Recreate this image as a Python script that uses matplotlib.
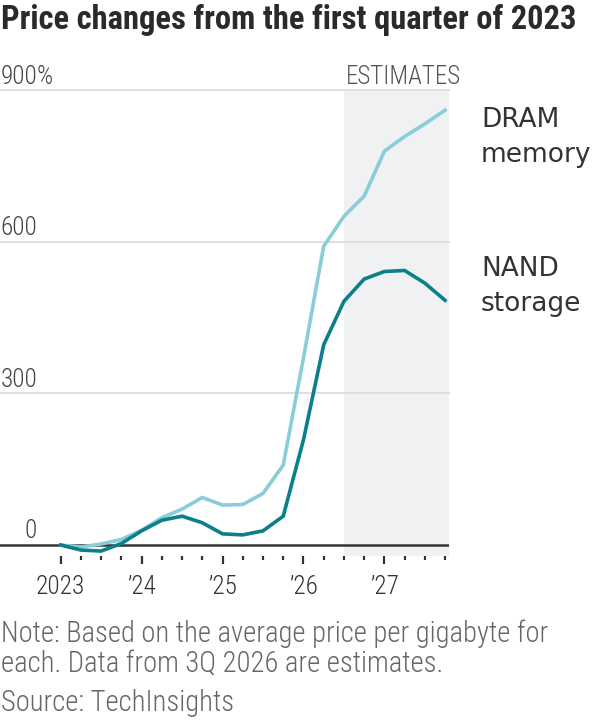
import matplotlib
matplotlib.use("Agg")
import matplotlib.pyplot as plt
from matplotlib import font_manager as fm

# ---- data (quarterly, 1Q 2023 .. 4Q 2027) ----
quarters = list(range(20))
dram = [0, -4, 2, 11, 29, 54, 71, 94, 79, 80, 102, 158, 370, 591, 650, 690, 779, 808, 833, 860]
nand = [0, -10, -12, 3, 28, 49, 57, 44, 22, 20, 28, 57, 208, 396, 482, 526, 541, 543, 518, 484]
year_ticks = [0, 4, 8, 12, 16]
year_labels = ["2023", "\u201924", "\u201925", "\u201926", "\u201927"]
y_grid = [300, 600, 900]
y_labels = ["300", "600", "900"]
estimate_start = 14

names = {f.name for f in fm.fontManager.ttflist}
COND = "DejaVu Sans"
for cand in ["Roboto Condensed", "IBM Plex Sans Condensed", "Archivo Narrow",
             "Asap Condensed", "Open Sans Condensed", "Liberation Sans Narrow"]:
    if cand in names:
        COND = cand
        break
FAM = [COND, "DejaVu Sans"]
LIGHT = "light"

W, H = 600, 720
fig = plt.figure(figsize=(6, 7.2), dpi=100)
renderer = fig.canvas.get_renderer()

def fx(x):
    return x / W

def fy(y):
    return 1 - y / H

def fit(t, width_px):
    for _ in range(3):
        w = t.get_window_extent(renderer).width
        if w > 0:
            t.set_fontsize(t.get_fontsize() * width_px / w)
    return t

# pixel mapping
px0, px_q = 60.7, 20.23
y0_px, ppu = 545.0, 455.0 / 900
ax_left_px, ax_right_px = 0, 449
ax_top_px, ax_bot_px = 90, 556

ax = fig.add_axes([fx(ax_left_px), fy(ax_bot_px), fx(ax_right_px - ax_left_px),
                   (ax_bot_px - ax_top_px) / H])
ax.set_xlim((ax_left_px - px0) / px_q, (ax_right_px - px0) / px_q)
ax.set_ylim((y0_px - ax_bot_px) / ppu, (y0_px - ax_top_px) / ppu)
for s in ax.spines.values():
    s.set_visible(False)
ax.set_facecolor("none")

# shading for estimates
ax.axvspan(estimate_start, ax.get_xlim()[1], color="#f0f1f3", zorder=0, lw=0)

# grid
for g in y_grid:
    ax.axhline(g, color="#dcdcdc", lw=1.3, zorder=1, clip_on=False)
ax.axhline(0, color="#333333", lw=1.8, zorder=3)

ax.plot(quarters, dram, color="#8accd8", lw=2.6, zorder=4, solid_joinstyle="miter")
ax.plot(quarters, nand, color="#0b7f8a", lw=2.6, zorder=5, solid_joinstyle="miter")

# size of tick-label font, fitted to "2023" width in the reference
probe = fig.text(0, 0, "2023", fontsize=15, family=FAM, fontweight=LIGHT)
fit(probe, 49)
tick_fs = probe.get_fontsize()
probe.remove()

ax.set_yticks([])
ax.set_xticks(year_ticks)
ax.set_xticklabels(year_labels, fontsize=tick_fs, color="#333333", fontfamily=FAM,
                   fontweight=LIGHT)
ax.set_xticks([q for q in quarters if q not in year_ticks], minor=True)
ax.tick_params(axis="x", which="major", length=6, width=1.6, color="#333333", pad=8)
ax.tick_params(axis="x", which="minor", length=3, width=1.6, color="#333333")

# y labels
ykw = dict(va="baseline", fontsize=tick_fs, color="#444444", family=FAM, fontweight=LIGHT)
for g, lab in zip(y_grid, y_labels):
    yb = y0_px - g * ppu - 6.5
    fig.text(fx(37), fy(yb), lab, ha="right", **ykw)
fig.text(fx(37), fy(y0_px - 7), "0", ha="right", **ykw)
fig.text(fx(37), fy(y0_px - 900 * ppu - 6.5), "%", ha="left", **ykw)
est = fig.text(fx(346), fy(84), "ESTIMATES", ha="left", va="baseline", fontsize=15,
               color="#555555", family=FAM, fontweight=LIGHT)
fit(est, 115)

# title
title = fig.text(fx(1), fy(29), "Price changes from the first quarter of 2023", ha="left",
                 va="baseline", fontsize=20, fontweight="bold", color="#2a2a2a",
                 family=FAM)
fit(title, 577)

# series labels
lab_kw = dict(ha="left", va="baseline", fontsize=19, color="#333333", family="DejaVu Sans")
fig.text(fx(481), fy(127), "DRAM", **lab_kw)
fig.text(fx(481), fy(162), "memory", **lab_kw)
fig.text(fx(481), fy(276), "NAND", **lab_kw)
fig.text(fx(481), fy(311), "storage", **lab_kw)

# notes
note_kw = dict(ha="left", va="baseline", fontsize=15, color="#666666", family=FAM,
               fontweight=LIGHT)
n1 = fig.text(fx(1), fy(642), "Note: Based on the average price per gigabyte for", **note_kw)
fit(n1, 546)
nfs = n1.get_fontsize()
fig.text(fx(1), fy(672), "each. Data from 3Q 2026 are estimates.", **{**note_kw, "fontsize": nfs})
fig.text(fx(1), fy(711), "Source: TechInsights", **{**note_kw, "fontsize": nfs})

fig.savefig("out.png", dpi=100, facecolor="white")
